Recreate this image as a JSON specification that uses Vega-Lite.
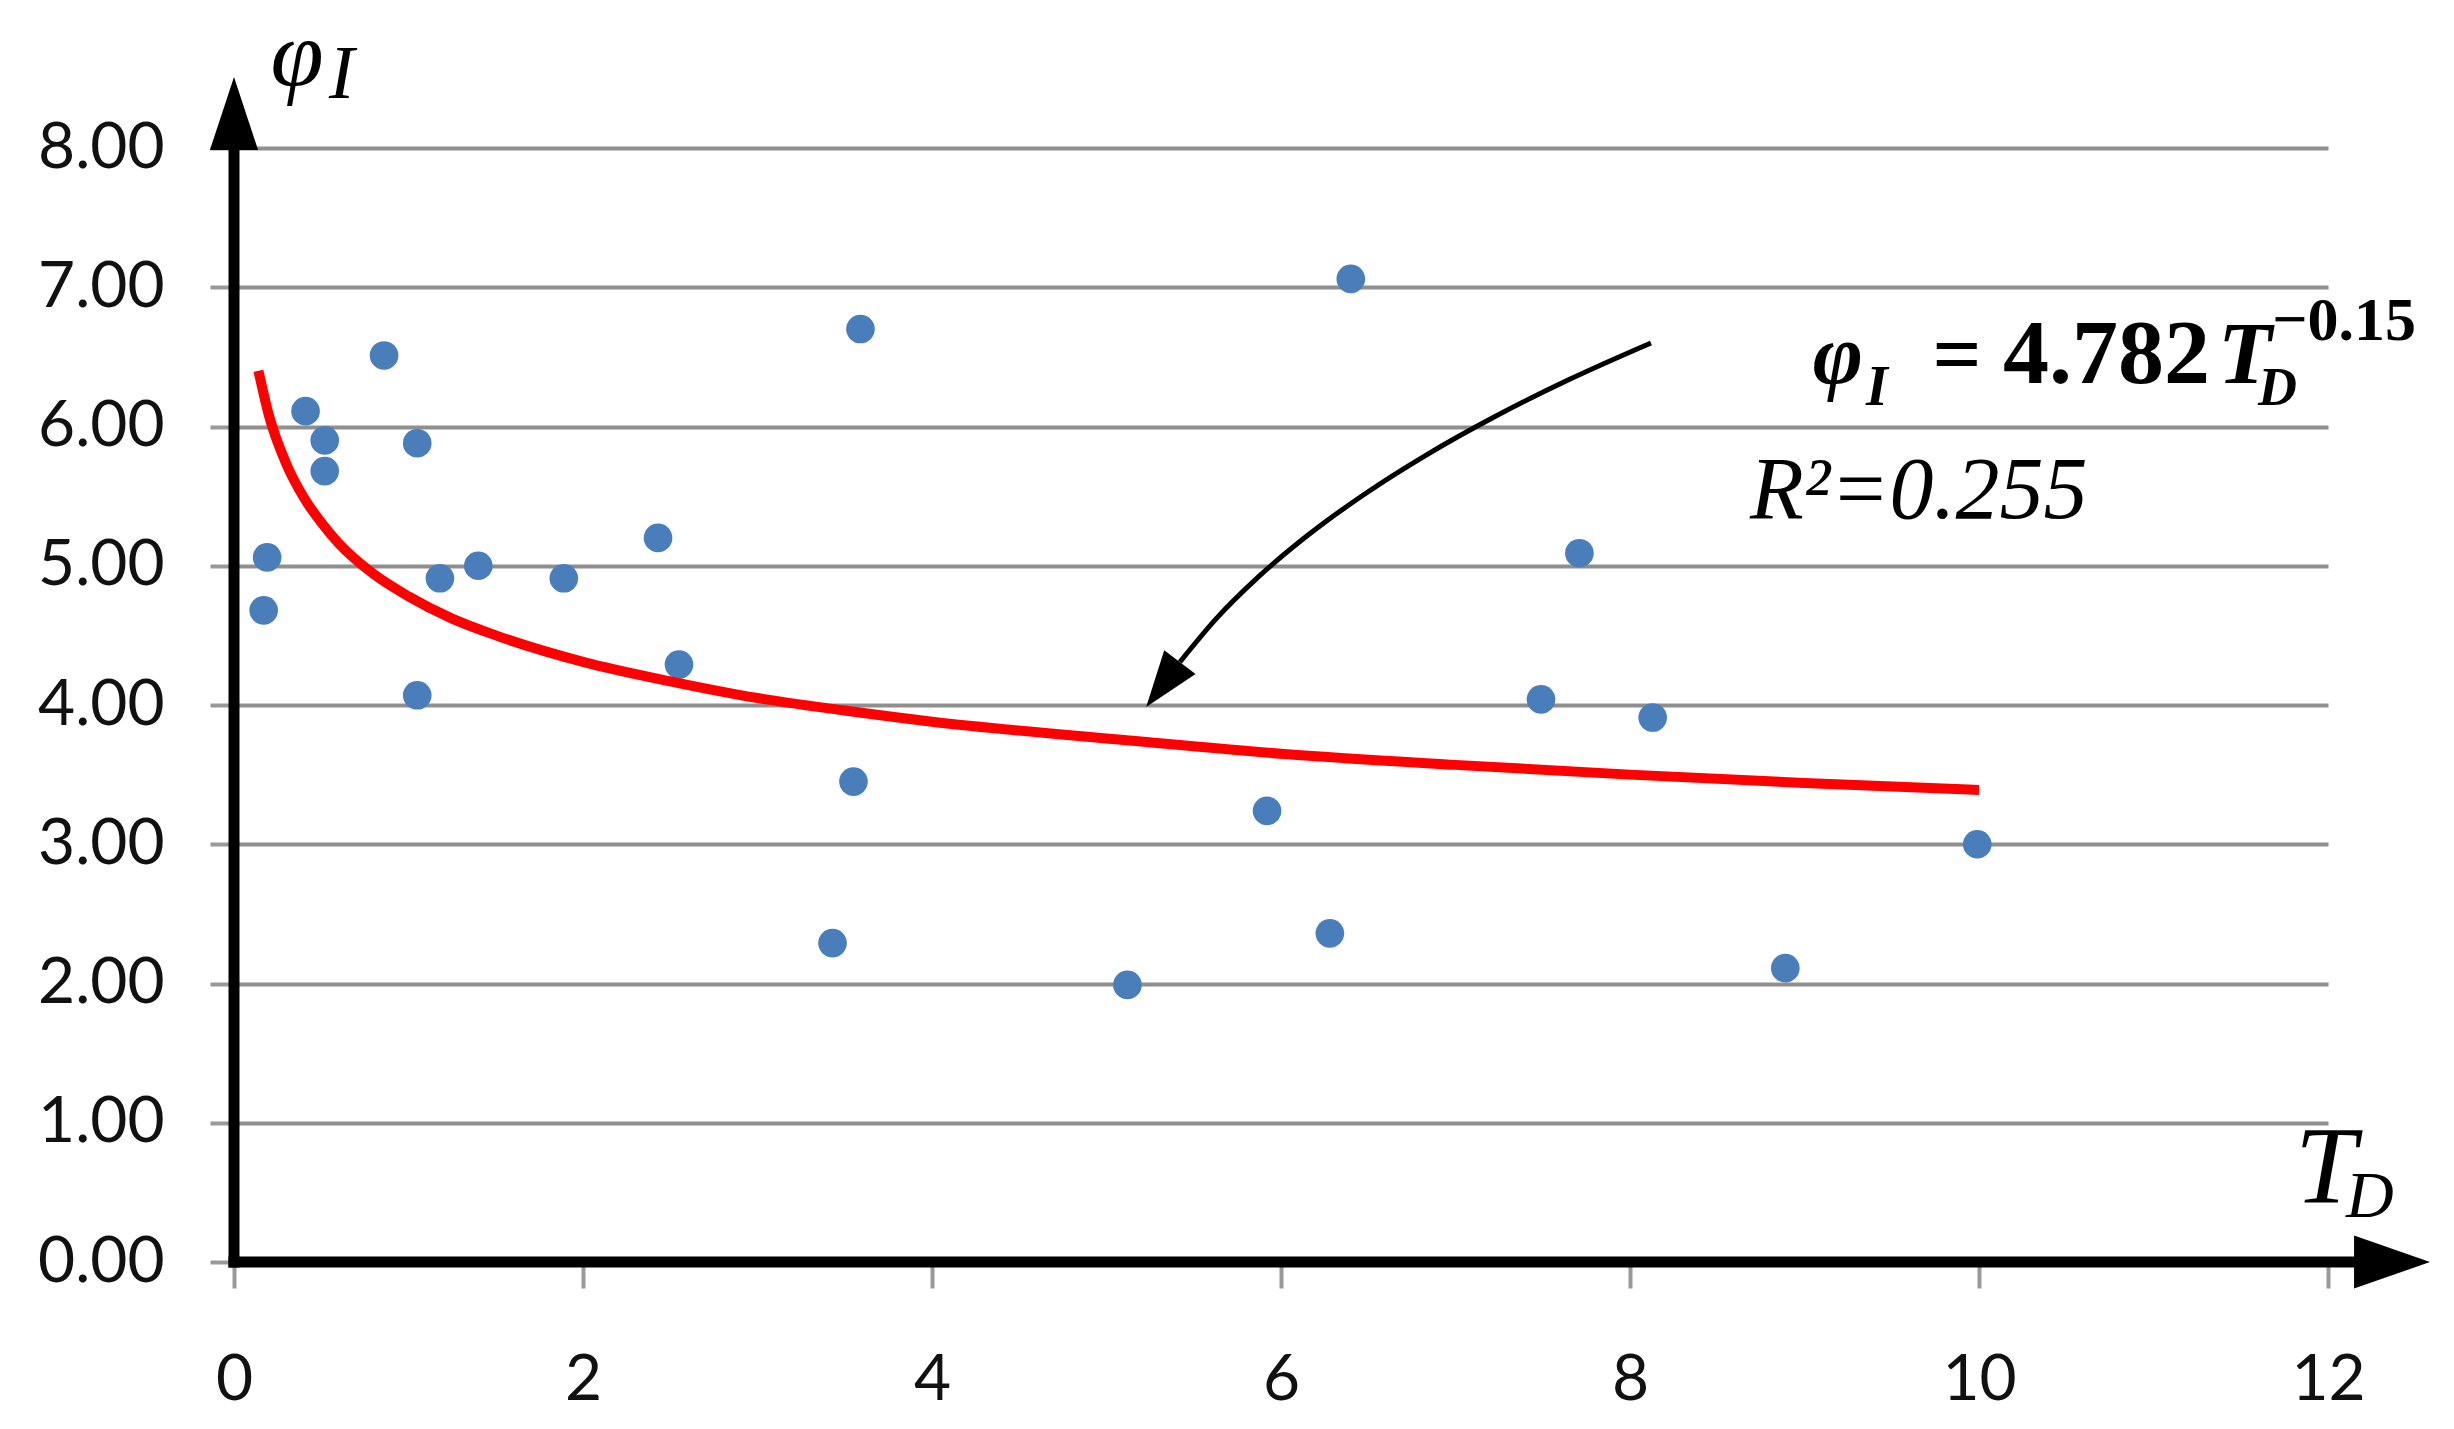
{
  "$schema": "https://vega.github.io/schema/vega-lite/v6.json",
  "width": 2094,
  "height": 1114,
  "autosize": {"type": "none"},
  "padding": {"left": 234, "top": 148, "right": 126, "bottom": 167},
  "background": "white",
  "config": {"view": {"stroke": null}},
  "data": {"values": [{}]},
  "datasets": {
    "points": [
      {"TD": 0.19, "phi": 5.06}, {"TD": 0.17, "phi": 4.68}, {"TD": 0.41, "phi": 6.11},
      {"TD": 0.52, "phi": 5.9}, {"TD": 0.52, "phi": 5.68}, {"TD": 0.86, "phi": 6.51},
      {"TD": 1.05, "phi": 5.88}, {"TD": 1.05, "phi": 4.07}, {"TD": 1.18, "phi": 4.91},
      {"TD": 1.4, "phi": 5.0}, {"TD": 1.89, "phi": 4.91}, {"TD": 2.43, "phi": 5.2},
      {"TD": 2.55, "phi": 4.29}, {"TD": 3.59, "phi": 6.7}, {"TD": 3.55, "phi": 3.45},
      {"TD": 3.43, "phi": 2.29}, {"TD": 5.12, "phi": 1.99}, {"TD": 5.92, "phi": 3.24},
      {"TD": 6.4, "phi": 7.06}, {"TD": 6.28, "phi": 2.36}, {"TD": 7.49, "phi": 4.04},
      {"TD": 7.71, "phi": 5.09}, {"TD": 8.13, "phi": 3.91}, {"TD": 8.89, "phi": 2.11},
      {"TD": 9.99, "phi": 3.0}
    ],
    "fit": [
      {"TD": 0.14, "phi": 6.4}, {"TD": 0.2, "phi": 6.08}, {"TD": 0.3, "phi": 5.73},
      {"TD": 0.4, "phi": 5.49}, {"TD": 0.5, "phi": 5.31}, {"TD": 0.6, "phi": 5.16},
      {"TD": 0.8, "phi": 4.94}, {"TD": 1.0, "phi": 4.78}, {"TD": 1.25, "phi": 4.62},
      {"TD": 1.5, "phi": 4.5}, {"TD": 2, "phi": 4.31}, {"TD": 2.5, "phi": 4.17},
      {"TD": 3, "phi": 4.05}, {"TD": 3.5, "phi": 3.96}, {"TD": 4, "phi": 3.88},
      {"TD": 5, "phi": 3.76}, {"TD": 6, "phi": 3.65}, {"TD": 7, "phi": 3.57},
      {"TD": 8, "phi": 3.5}, {"TD": 9, "phi": 3.44}, {"TD": 10, "phi": 3.39}
    ],
    "pointer": [
      {"TD": 5.421, "phi": 4.309}, {"TD": 5.629, "phi": 4.62}, {"TD": 5.875, "phi": 4.925},
      {"TD": 6.157, "phi": 5.222}, {"TD": 6.476, "phi": 5.512}, {"TD": 6.832, "phi": 5.795},
      {"TD": 7.224, "phi": 6.07}, {"TD": 7.654, "phi": 6.339}, {"TD": 8.12, "phi": 6.6}
    ]
  },
  "layer": [
    {
      "data": {"name": "points"},
      "mark": {"type": "circle", "size": 820, "color": "#4a7ebb", "opacity": 1},
      "encoding": {
        "x": {
          "field": "TD", "type": "quantitative", "title": null,
          "scale": {"domain": [0, 12], "nice": false},
          "axis": {
            "values": [0, 2, 4, 6, 8, 10, 12], "format": "d", "title": null, "domain": false, "grid": false,
            "tickSize": 26, "tickColor": "#999999", "tickWidth": 4,
            "labelFont": "Lato", "labelFontSize": 64, "labelColor": "#111111",
            "labelPadding": 60, "labelFlush": false
          }
        },
        "y": {
          "field": "phi", "type": "quantitative", "title": null,
          "scale": {"domain": [0, 8], "nice": false},
          "axis": {
            "values": [0, 1, 2, 3, 4, 5, 6, 7, 8], "format": ".2f", "title": null, "domain": false,
            "grid": true, "gridColor": "#8f8f8f", "gridWidth": 4,
            "tickSize": 24, "tickColor": "#999999", "tickWidth": 4,
            "labelFont": "Lato", "labelFontSize": 64, "labelColor": "#111111",
            "labelPadding": 46, "labelFlush": false
          }
        }
      }
    },
    {
      "data": {"name": "fit"},
      "mark": {"type": "line", "color": "#ff0000", "strokeWidth": 10, "interpolate": "monotone"},
      "encoding": {
        "x": {"field": "TD", "type": "quantitative", "title": null},
        "y": {"field": "phi", "type": "quantitative", "title": null}
      }
    },
    {
      "data": {"name": "pointer"},
      "mark": {"type": "line", "color": "black", "strokeWidth": 5, "interpolate": "monotone"},
      "encoding": {
        "x": {"field": "TD", "type": "quantitative", "title": null},
        "y": {"field": "phi", "type": "quantitative", "title": null}
      }
    },
    {
      "mark": {"type": "point", "shape": "M0,-1L0.7,1L-0.7,1Z", "filled": true, "color": "black", "opacity": 1, "size": 3136, "angle": 217},
      "encoding": {"x": {"datum": 5.324, "title": null}, "y": {"datum": 4.147, "title": null}}
    },
    {
      "mark": {"type": "rule", "color": "black", "strokeWidth": 11, "strokeCap": "square"},
      "encoding": {"x": {"datum": 0, "title": null}, "x2": {"datum": 12.2}, "y": {"datum": 0, "title": null}}
    },
    {
      "mark": {"type": "rule", "color": "black", "strokeWidth": 11, "strokeCap": "square"},
      "encoding": {"x": {"datum": 0, "title": null}, "y": {"datum": 0, "title": null}, "y2": {"datum": 8.0}}
    },
    {
      "mark": {"type": "point", "shape": "M1,0L-1,0.7L-1,-0.7Z", "filled": true, "color": "black", "opacity": 1, "size": 5776},
      "encoding": {"x": {"datum": 12.367, "title": null}, "y": {"datum": 0, "title": null}}
    },
    {
      "mark": {"type": "point", "shape": "M0,-1L0.66,1L-0.66,1Z", "filled": true, "color": "black", "opacity": 1, "size": 5329},
      "encoding": {"x": {"datum": 0, "title": null}, "y": {"datum": 8.248, "title": null}}
    },
    {
      "mark": {"type": "text", "text": "φ", "font": "Liberation Serif", "fontStyle": "italic", "fontSize": 96, "align": "center", "baseline": "alphabetic", "color": "black"},
      "encoding": {"x": {"datum": 0.361, "title": null}, "y": {"datum": 8.445, "title": null}}
    },
    {
      "mark": {"type": "text", "text": "I", "font": "Liberation Serif", "fontStyle": "italic", "fontSize": 76, "align": "left", "baseline": "alphabetic", "color": "black"},
      "encoding": {"x": {"datum": 0.544, "title": null}, "y": {"datum": 8.359, "title": null}}
    },
    {
      "mark": {"type": "text", "text": "T", "font": "Liberation Serif", "fontStyle": "italic", "fontSize": 110, "align": "left", "baseline": "alphabetic", "color": "black"},
      "encoding": {"x": {"datum": 11.811, "title": null}, "y": {"datum": 0.424, "title": null}}
    },
    {
      "mark": {"type": "text", "text": "D", "font": "Liberation Serif", "fontStyle": "italic", "fontSize": 66, "align": "left", "baseline": "alphabetic", "color": "black"},
      "encoding": {"x": {"datum": 12.103, "title": null}, "y": {"datum": 0.323, "title": null}}
    },
    {
      "mark": {"type": "text", "text": "φ", "font": "Liberation Serif", "fontStyle": "italic", "fontWeight": "bold", "fontSize": 86, "align": "center", "baseline": "alphabetic", "color": "black"},
      "encoding": {"x": {"datum": 9.192, "title": null}, "y": {"datum": 6.312, "title": null}}
    },
    {
      "mark": {"type": "text", "text": "I", "font": "Liberation Serif", "fontStyle": "italic", "fontWeight": "bold", "fontSize": 56, "align": "left", "baseline": "alphabetic", "color": "black"},
      "encoding": {"x": {"datum": 9.352, "title": null}, "y": {"datum": 6.154, "title": null}}
    },
    {
      "mark": {"type": "text", "text": "=", "font": "Liberation Serif", "fontWeight": "bold", "fontSize": 86, "align": "center", "baseline": "alphabetic", "color": "black"},
      "encoding": {"x": {"datum": 9.874, "title": null}, "y": {"datum": 6.31, "title": null}}
    },
    {
      "mark": {"type": "text", "text": "4.782", "font": "Liberation Serif", "fontWeight": "bold", "fontSize": 92, "align": "left", "baseline": "alphabetic", "color": "black"},
      "encoding": {"x": {"datum": 10.138, "title": null}, "y": {"datum": 6.312, "title": null}}
    },
    {
      "mark": {"type": "text", "text": "T", "font": "Liberation Serif", "fontStyle": "italic", "fontWeight": "bold", "fontSize": 88, "align": "left", "baseline": "alphabetic", "color": "black"},
      "encoding": {"x": {"datum": 11.37, "title": null}, "y": {"datum": 6.312, "title": null}}
    },
    {
      "mark": {"type": "text", "text": "D", "font": "Liberation Serif", "fontStyle": "italic", "fontWeight": "bold", "fontSize": 54, "align": "left", "baseline": "alphabetic", "color": "black"},
      "encoding": {"x": {"datum": 11.599, "title": null}, "y": {"datum": 6.154, "title": null}}
    },
    {
      "mark": {"type": "text", "text": "−0.15", "font": "Liberation Serif", "fontWeight": "bold", "fontSize": 62, "align": "left", "baseline": "alphabetic", "color": "black"},
      "encoding": {"x": {"datum": 11.68, "title": null}, "y": {"datum": 6.621, "title": null}}
    },
    {
      "mark": {"type": "text", "text": "R²=0.255", "font": "Liberation Serif", "fontStyle": "italic", "fontSize": 88, "align": "left", "baseline": "alphabetic", "color": "black"},
      "encoding": {"x": {"datum": 8.688, "title": null}, "y": {"datum": 5.343, "title": null}}
    }
  ]
}
